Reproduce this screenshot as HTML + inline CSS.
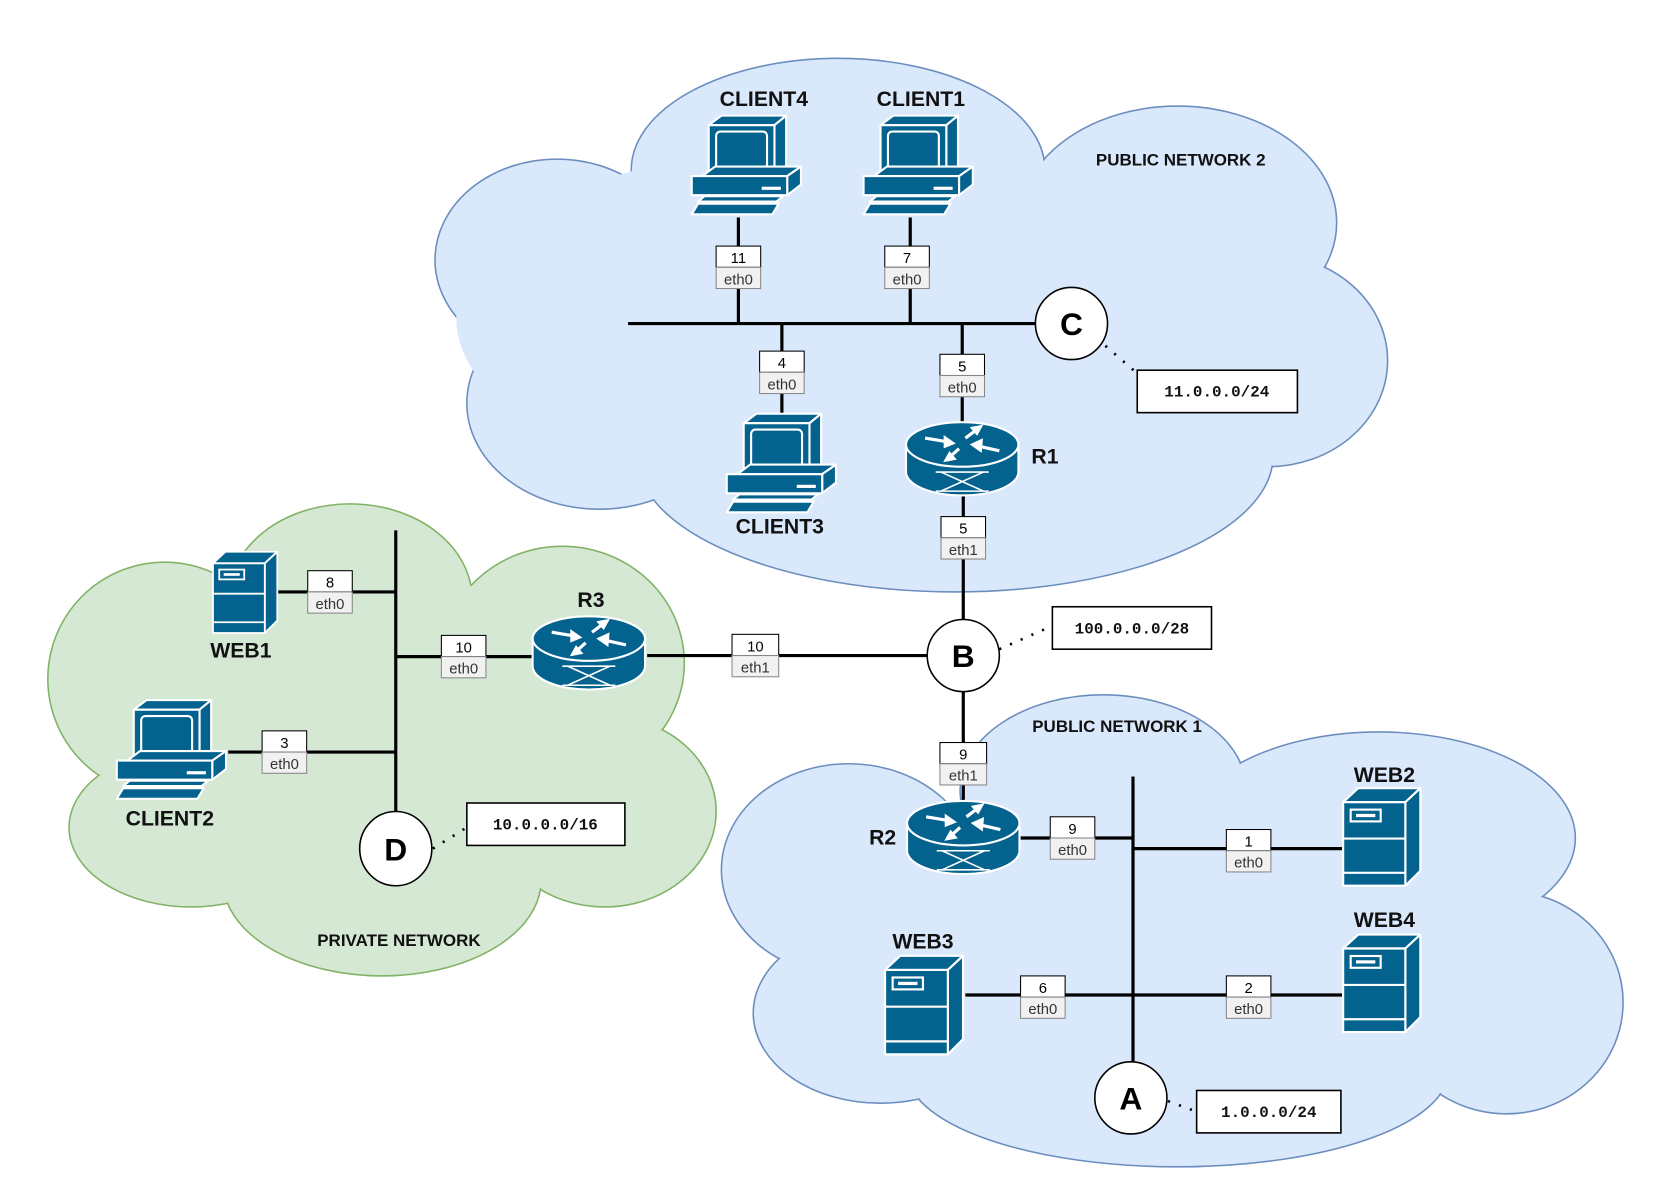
<!DOCTYPE html>
<html><head><meta charset="utf-8"><style>
html,body{margin:0;padding:0;background:#fff;}
svg{display:block;}
text{font-family:"Liberation Sans",Arial,sans-serif;}
.lbl{font-weight:bold;font-size:20px;fill:#111;text-anchor:middle;}
.net{font-weight:bold;font-size:16px;fill:#111;text-anchor:middle;}
.num{font-size:14px;fill:#000;text-anchor:middle;}
.eth{font-size:14px;fill:#333;text-anchor:middle;}
.addr{font-family:"Liberation Mono",monospace;font-weight:bold;font-size:15px;fill:#111;text-anchor:middle;}
.big{font-weight:bold;font-size:30px;fill:#000;text-anchor:middle;}
</style></head><body>
<svg width="1655" height="1187" viewBox="0 0 1560 1119" xmlns="http://www.w3.org/2000/svg">
<defs>
<symbol id="pc" viewBox="0 0 106 96">
 <g fill="#04628f" stroke="#fff" stroke-width="2" stroke-linejoin="round">
  <polygon points="18,10 30,1 91,1 80,10"/>
  <polygon points="80,10 91,1 91,50 80,58"/>
  <rect x="18" y="10" width="62" height="48"/>
  <rect x="25" y="16" width="48" height="36" rx="4" fill="#04628f"/>
  <polygon points="12,58 24,49 105,49 92,58"/>
  <polygon points="92,58 105,49 105,66 92,76"/>
  <rect x="2" y="58" width="90" height="18"/>
  <polygon points="8,82 14,77 88,77 82,82"/>
  <polygon points="2,94 8,84 84,84 78,94"/>
 </g>
 <rect x="68" y="68" width="18" height="3" fill="#fff"/>
</symbol>
<symbol id="srv" viewBox="0 0 76 96">
 <g fill="#04628f" stroke="#fff" stroke-width="2" stroke-linejoin="round">
  <polygon points="2,16 16,3 74,3 60,16"/>
  <polygon points="60,16 74,3 74,80 60,94"/>
  <rect x="2" y="16" width="58" height="78"/>
 </g>
 <rect x="9" y="23" width="28" height="11" fill="none" stroke="#fff" stroke-width="2"/>
 <rect x="14" y="27" width="18" height="3" fill="#fff"/>
 <line x1="2" y1="50" x2="60" y2="50" stroke="#fff" stroke-width="2"/>
 <line x1="2" y1="82" x2="60" y2="82" stroke="#fff" stroke-width="2"/>
</symbol>
<symbol id="rtr" viewBox="0 0 110 74">
 <g fill="#04628f" stroke="#fff" stroke-width="2">
  <path d="M2,24 L2,50 A53,22 0 0 0 108,50 L108,24 Z"/>
  <ellipse cx="55" cy="24" rx="53" ry="21"/>
 </g>
 <g stroke="#fff" stroke-width="3" fill="#fff">
  <line x1="20" y1="18" x2="44" y2="22"/><polygon points="48,23 38,16 38,27" stroke-width="1"/>
  <line x1="90" y1="30" x2="68" y2="25"/><polygon points="63,24 74,19 73,31" stroke-width="1"/>
  <line x1="58" y1="18" x2="70" y2="9"/><polygon points="74,6 63,8 69,15" stroke-width="1"/>
  <line x1="52" y1="28" x2="42" y2="37"/><polygon points="38,40 49,38 43,31" stroke-width="1"/>
 </g>
 <g stroke="#fff" stroke-width="1.5" fill="none">
  <line x1="35" y1="50" x2="75" y2="68"/><line x1="35" y1="68" x2="75" y2="50"/>
  <line x1="30" y1="50" x2="80" y2="50"/><line x1="30" y1="68" x2="80" y2="68"/>
 </g>
</symbol>
</defs>

<!-- clouds -->
<g fill="#dae8fc" stroke="#6c8ebf" stroke-width="1.5">
 <g id="c2">
  <ellipse cx="525" cy="245" rx="115" ry="95"/>
  <ellipse cx="790" cy="160" rx="195" ry="105"/>
  <ellipse cx="1110" cy="210" rx="150" ry="110"/>
  <ellipse cx="1195" cy="340" rx="113" ry="100"/>
  <ellipse cx="900" cy="430" rx="300" ry="128"/>
  <ellipse cx="565" cy="380" rx="125" ry="100"/>
 </g>
 <g id="c1">
  <ellipse cx="800" cy="820" rx="120" ry="100"/>
  <ellipse cx="1040" cy="745" rx="135" ry="90"/>
  <ellipse cx="1300" cy="790" rx="185" ry="100"/>
  <ellipse cx="1420" cy="945" rx="110" ry="105"/>
  <ellipse cx="1110" cy="1010" rx="255" ry="90"/>
  <ellipse cx="830" cy="955" rx="120" ry="85"/>
 </g>
</g>
<g fill="#dae8fc" stroke="none">
 <ellipse cx="525" cy="245" rx="114" ry="94"/>
 <ellipse cx="790" cy="160" rx="194" ry="104"/>
 <ellipse cx="1110" cy="210" rx="149" ry="109"/>
 <ellipse cx="1195" cy="340" rx="112" ry="99"/>
 <ellipse cx="900" cy="430" rx="299" ry="127"/>
 <ellipse cx="565" cy="380" rx="124" ry="99"/>
 <ellipse cx="760" cy="300" rx="330" ry="160"/>
 <ellipse cx="800" cy="820" rx="119" ry="99"/>
 <ellipse cx="1040" cy="745" rx="134" ry="89"/>
 <ellipse cx="1300" cy="790" rx="184" ry="99"/>
 <ellipse cx="1420" cy="945" rx="109" ry="104"/>
 <ellipse cx="1110" cy="1010" rx="254" ry="89"/>
 <ellipse cx="830" cy="955" rx="119" ry="84"/>
 <ellipse cx="1100" cy="880" rx="330" ry="150"/>
</g>
<g fill="#d5e8d4" stroke="#82b366" stroke-width="1.5">
 <ellipse cx="155" cy="640" rx="110" ry="110"/>
 <ellipse cx="330" cy="565" rx="115" ry="90"/>
 <ellipse cx="530" cy="625" rx="115" ry="110"/>
 <ellipse cx="570" cy="765" rx="105" ry="90"/>
 <ellipse cx="360" cy="830" rx="150" ry="90"/>
 <ellipse cx="180" cy="780" rx="115" ry="75"/>
</g>
<g fill="#d5e8d4">
 <ellipse cx="155" cy="640" rx="109" ry="109"/>
 <ellipse cx="330" cy="565" rx="114" ry="89"/>
 <ellipse cx="530" cy="625" rx="114" ry="109"/>
 <ellipse cx="570" cy="765" rx="104" ry="89"/>
 <ellipse cx="360" cy="830" rx="149" ry="89"/>
 <ellipse cx="180" cy="780" rx="114" ry="74"/>
 <ellipse cx="360" cy="690" rx="210" ry="150"/>
</g>

<!-- lines -->
<g stroke="#000" stroke-width="3" fill="none">
 <line x1="592" y1="305" x2="976" y2="305"/>
 <line x1="696" y1="205" x2="696" y2="305"/>
 <line x1="858" y1="205" x2="858" y2="305"/>
 <line x1="737" y1="305" x2="737" y2="392"/>
 <line x1="907" y1="305" x2="907" y2="398"/>
 <line x1="908" y1="466" x2="908" y2="584"/>
 <line x1="610" y1="618" x2="874" y2="618"/>
 <line x1="373" y1="619" x2="502" y2="619"/>
 <line x1="373" y1="500" x2="373" y2="766"/>
 <line x1="262" y1="558" x2="373" y2="558"/>
 <line x1="215" y1="709" x2="373" y2="709"/>
 <line x1="908" y1="652" x2="908" y2="756"/>
 <line x1="962" y1="790" x2="1068" y2="790"/>
 <line x1="1068" y1="732" x2="1068" y2="1001"/>
 <line x1="1068" y1="800" x2="1265" y2="800"/>
 <line x1="910" y1="938" x2="1265" y2="938"/>
</g>
<g stroke="#000" stroke-width="2.5" stroke-dasharray="2,9" fill="none">
 <line x1="1042" y1="326" x2="1072" y2="352"/>
 <line x1="942" y1="612" x2="992" y2="590"/>
 <line x1="408" y1="800" x2="440" y2="780"/>
 <line x1="1101" y1="1038" x2="1128" y2="1048"/>
</g>

<!-- icons -->
<use href="#pc" x="650" y="108" width="106" height="96"/>
<use href="#pc" x="812" y="108" width="106" height="96"/>
<use href="#pc" x="683" y="389" width="106" height="96"/>
<use href="#pc" x="108" y="659" width="106" height="96"/>
<use href="#srv" x="199" y="515" width="64" height="86"/>
<use href="#srv" x="1264" y="740" width="77" height="97"/>
<use href="#srv" x="1264" y="878" width="77" height="97"/>
<use href="#srv" x="832" y="898" width="78" height="98"/>
<use href="#rtr" x="852" y="395" width="110" height="74"/>
<use href="#rtr" x="500" y="578" width="110" height="74"/>
<use href="#rtr" x="853" y="752" width="110" height="74"/>

<!-- port boxes -->
<g id="ports">
<g transform="translate(675,232)"><rect width="42" height="20" fill="#fff" stroke="#000"/><rect y="20" width="42" height="20" fill="#f1f1f1" stroke="#888"/><text class="num" x="21" y="16">11</text><text class="eth" x="21" y="36">eth0</text></g>
<g transform="translate(834,232)"><rect width="42" height="20" fill="#fff" stroke="#000"/><rect y="20" width="42" height="20" fill="#f1f1f1" stroke="#888"/><text class="num" x="21" y="16">7</text><text class="eth" x="21" y="36">eth0</text></g>
<g transform="translate(716,331)"><rect width="42" height="20" fill="#fff" stroke="#000"/><rect y="20" width="42" height="20" fill="#f1f1f1" stroke="#888"/><text class="num" x="21" y="16">4</text><text class="eth" x="21" y="36">eth0</text></g>
<g transform="translate(886,334)"><rect width="42" height="20" fill="#fff" stroke="#000"/><rect y="20" width="42" height="20" fill="#f1f1f1" stroke="#888"/><text class="num" x="21" y="16">5</text><text class="eth" x="21" y="36">eth0</text></g>
<g transform="translate(887,487)"><rect width="42" height="20" fill="#fff" stroke="#000"/><rect y="20" width="42" height="20" fill="#f1f1f1" stroke="#888"/><text class="num" x="21" y="16">5</text><text class="eth" x="21" y="36">eth1</text></g>
<g transform="translate(690,598)"><rect width="44" height="20" fill="#fff" stroke="#000"/><rect y="20" width="44" height="20" fill="#f1f1f1" stroke="#888"/><text class="num" x="22" y="16">10</text><text class="eth" x="22" y="36">eth1</text></g>
<g transform="translate(416,599)"><rect width="42" height="20" fill="#fff" stroke="#000"/><rect y="20" width="42" height="20" fill="#f1f1f1" stroke="#888"/><text class="num" x="21" y="16">10</text><text class="eth" x="21" y="36">eth0</text></g>
<g transform="translate(290,538)"><rect width="42" height="20" fill="#fff" stroke="#000"/><rect y="20" width="42" height="20" fill="#f1f1f1" stroke="#888"/><text class="num" x="21" y="16">8</text><text class="eth" x="21" y="36">eth0</text></g>
<g transform="translate(247,689)"><rect width="42" height="20" fill="#fff" stroke="#000"/><rect y="20" width="42" height="20" fill="#f1f1f1" stroke="#888"/><text class="num" x="21" y="16">3</text><text class="eth" x="21" y="36">eth0</text></g>
<g transform="translate(886,700)"><rect width="44" height="20" fill="#fff" stroke="#000"/><rect y="20" width="44" height="20" fill="#f1f1f1" stroke="#888"/><text class="num" x="22" y="16">9</text><text class="eth" x="22" y="36">eth1</text></g>
<g transform="translate(990,770)"><rect width="42" height="20" fill="#fff" stroke="#000"/><rect y="20" width="42" height="20" fill="#f1f1f1" stroke="#888"/><text class="num" x="21" y="16">9</text><text class="eth" x="21" y="36">eth0</text></g>
<g transform="translate(1156,782)"><rect width="42" height="20" fill="#fff" stroke="#000"/><rect y="20" width="42" height="20" fill="#f1f1f1" stroke="#888"/><text class="num" x="21" y="16">1</text><text class="eth" x="21" y="36">eth0</text></g>
<g transform="translate(1156,920)"><rect width="42" height="20" fill="#fff" stroke="#000"/><rect y="20" width="42" height="20" fill="#f1f1f1" stroke="#888"/><text class="num" x="21" y="16">2</text><text class="eth" x="21" y="36">eth0</text></g>
<g transform="translate(962,920)"><rect width="42" height="20" fill="#fff" stroke="#000"/><rect y="20" width="42" height="20" fill="#f1f1f1" stroke="#888"/><text class="num" x="21" y="16">6</text><text class="eth" x="21" y="36">eth0</text></g>
</g>

<!-- circles -->
<g fill="#fff" stroke="#000" stroke-width="1.5">
 <ellipse cx="1010" cy="305" rx="34" ry="34"/>
 <ellipse cx="908" cy="618" rx="34" ry="34"/>
 <ellipse cx="373" cy="800" rx="34" ry="35"/>
 <ellipse cx="1066" cy="1035" rx="34" ry="34"/>
</g>
<text class="big" x="1010" y="316">C</text>
<text class="big" x="908" y="629">B</text>
<text class="big" x="373" y="811">D</text>
<text class="big" x="1066" y="1046">A</text>

<!-- address boxes -->
<g fill="#fff" stroke="#000" stroke-width="1.5">
 <rect x="1072" y="349" width="151" height="40"/>
 <rect x="992" y="572" width="150" height="40"/>
 <rect x="440" y="757" width="149" height="40"/>
 <rect x="1128" y="1028" width="136" height="40"/>
</g>
<text class="addr" x="1147" y="374">11.0.0.0/24</text>
<text class="addr" x="1067" y="597">100.0.0.0/28</text>
<text class="addr" x="514" y="782">10.0.0.0/16</text>
<text class="addr" x="1196" y="1053">1.0.0.0/24</text>

<!-- labels -->
<text class="lbl" x="720" y="100">CLIENT4</text>
<text class="lbl" x="868" y="100">CLIENT1</text>
<text class="lbl" x="735" y="503">CLIENT3</text>
<text class="lbl" x="985" y="437">R1</text>
<text class="lbl" x="557" y="572">R3</text>
<text class="lbl" x="227" y="620">WEB1</text>
<text class="lbl" x="160" y="778">CLIENT2</text>
<text class="lbl" x="832" y="796">R2</text>
<text class="lbl" x="1305" y="737">WEB2</text>
<text class="lbl" x="1305" y="874">WEB4</text>
<text class="lbl" x="870" y="894">WEB3</text>
<text class="net" x="1113" y="156">PUBLIC NETWORK 2</text>
<text class="net" x="1053" y="690">PUBLIC NETWORK 1</text>
<text class="net" x="376" y="892">PRIVATE NETWORK</text>
</svg>
</body></html>
